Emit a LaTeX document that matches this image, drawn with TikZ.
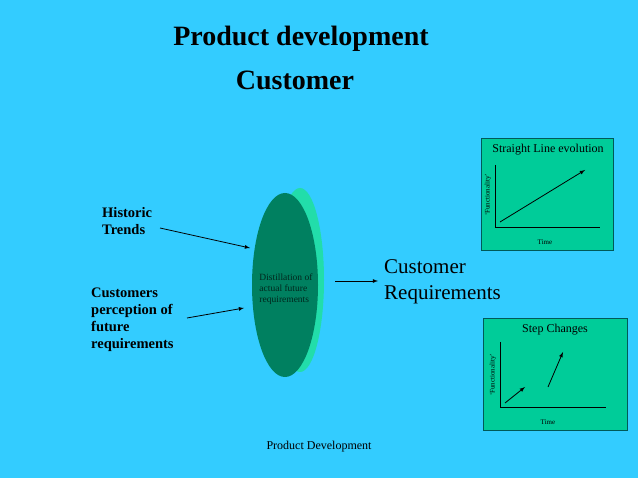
\documentclass[tikz,border=0pt]{standalone}
\usepackage{fontspec}
\setmainfont{Liberation Serif}
\begin{document}
\begin{tikzpicture}[x=1pt,y=-1pt,
  lbl/.style={font=\bfseries\fontsize{14.5}{17}\selectfont,align=left,anchor=north west,inner sep=0},
  arr/.style={-latex,thick},
  gbox/.style={draw=teal!70!black,fill=boxg,line width=1pt},
  ax/.style={line width=1pt},
  small/.style={font=\fontsize{7}{8}\selectfont,inner sep=0}]
\definecolor{bg}{HTML}{33CCFF}
\definecolor{boxg}{HTML}{00CC99}
\definecolor{disk}{HTML}{008060}
\definecolor{rim}{HTML}{22DDAA}
\fill[bg] (0,0) rectangle (638,478);
\useasboundingbox (0,0) rectangle (638,478);
\node[font=\bfseries\fontsize{28}{32}\selectfont] (t1) at (301,39) {Product development};
\node[font=\bfseries\fontsize{28}{32}\selectfont] (t2) at (295,80) {Customer};
% disk
\fill[rim] (300,280) ellipse (24 and 92);
\fill[disk] (285,285) ellipse (33 and 92);
\node[small,font=\fontsize{9.5}{11}\selectfont,align=left,text=black!70!disk] (d) at (286,289) {Distillation of\\actual future\\requirements};
\coordinate (dl1) at (250,248);
\coordinate (dl2) at (244,308);
\coordinate (dr) at (335,281);
\node[lbl] (h) at (102,207) {Historic\\Trends};
\node[lbl] (c) at (91,288) {Customers\\perception of\\future\\requirements};
\draw[arr] (160,228) -- (dl1);
\draw[arr] (187,318) -- (dl2);
\node[font=\fontsize{21}{26}\selectfont,align=left,anchor=north west,inner sep=0] (cr) at (384,259) {Customer\\Requirements};
\draw[arr] (dr) -- (378,281);
% box 1
\node[gbox,minimum width=132,minimum height=112,anchor=north west] (b1) at (481,138) {};
\node[font=\fontsize{12}{14}\selectfont] (b1t) at (548,150) {Straight Line evolution};
\coordinate (o1) at (495,228);
\draw[ax] (495,165) -- (o1) -- (600,228);
\draw[arr] (500,222) -- (585,170);
\node[small] at (545,242) {Time};
\node[small,rotate=90] at (488,195) {`Functionality'};
% box 2
\node[gbox,minimum width=144,minimum height=112,anchor=north west] (b2) at (483,318) {};
\node[font=\fontsize{12}{14}\selectfont] (b2t) at (555,330) {Step Changes};
\draw[ax] (500,342) -- (500,408) -- (606,408);
\draw[arr] (505,403) -- (525,387);
\draw[arr] (548,387) -- (563,352);
\node[small] at (548,422) {Time};
\node[small,rotate=90] at (493,375) {`Functionality'};
\node[font=\fontsize{12}{14}\selectfont] (f) at (319,447) {Product Development};
\end{tikzpicture}
\end{document}
